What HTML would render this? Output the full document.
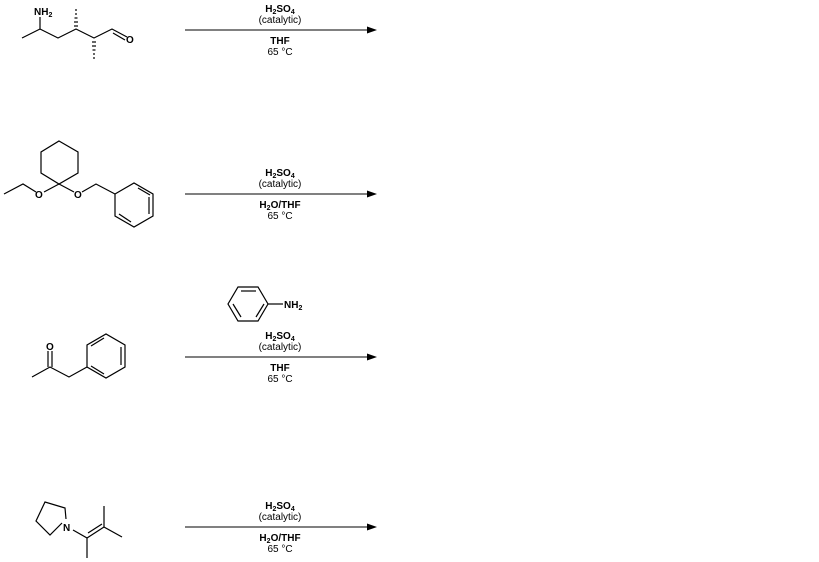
<!DOCTYPE html><html><head><style>body{margin:0;background:#fff}svg{display:block}text{font-family:"Liberation Sans",Arial,sans-serif;fill:#000}</style></head><body>
<svg width="819" height="562" viewBox="0 0 819 562" xmlns="http://www.w3.org/2000/svg">
<g stroke="#000" stroke-width="1.2" fill="none">
<polyline points="22,38 40,29 58,38 76,29 94,38 112,29 127,37"/>
<line x1="113" y1="33" x2="125" y2="40"/>
<line x1="40" y1="29" x2="40" y2="17"/>
</g>
<g stroke="#000" stroke-width="1.2">
<line x1="74" y1="26" x2="78" y2="26"/><line x1="74" y1="22" x2="78" y2="22"/><line x1="74.5" y1="18" x2="77.5" y2="18"/><line x1="75" y1="14" x2="77" y2="14"/><line x1="75" y1="10" x2="77" y2="10"/>
<line x1="92" y1="42" x2="96" y2="42"/><line x1="92" y1="46" x2="96" y2="46"/><line x1="92.5" y1="50" x2="95.5" y2="50"/><line x1="93" y1="54" x2="95" y2="54"/><line x1="93" y1="58" x2="95" y2="58"/>
</g>
<text x="34" y="15" font-size="10" font-weight="bold">NH<tspan font-size="7" dy="2">2</tspan></text>
<text x="126" y="43" font-size="10" font-weight="bold">O</text>
<g stroke="#000" stroke-width="1.2" fill="none">
<polygon points="59,141 78,152 78,173 59,184 41,173 41,152"/>
<polyline points="59,184 44,192"/><polyline points="36,192 23,184 4,194"/>
<polyline points="59,184 74,192"/><polyline points="82,192 96,184 115,194"/>
<polygon points="115,194 134,183 153,194 153,216 134,227 115,216"/>
<line x1="138" y1="188" x2="150" y2="195"/><line x1="149" y1="197" x2="149" y2="214"/><line x1="119" y1="214" x2="131" y2="222"/>
</g>
<text x="35" y="198" font-size="10" font-weight="bold">O</text><text x="74" y="198" font-size="10" font-weight="bold">O</text>
<g stroke="#000" stroke-width="1.2" fill="none">
<polyline points="32,377 50,367 69,377 87,367"/>
<line x1="48" y1="367" x2="48" y2="351"/><line x1="52" y1="367" x2="52" y2="351"/>
<polygon points="87,367 87,345 106,334 125,345 125,367 106,378"/>
<line x1="91" y1="346" x2="104" y2="338"/><line x1="121" y1="347" x2="121" y2="365"/><line x1="91" y1="366" x2="104" y2="374"/>
</g>
<text x="46" y="350" font-size="10" font-weight="bold">O</text>
<g stroke="#000" stroke-width="1.2" fill="none">
<polyline points="62,523 50,535 36,521 45,502 65,508 66,519"/>
<polyline points="73,530 87,538 87,558"/>
<line x1="87" y1="538" x2="104" y2="527"/><line x1="88" y1="533" x2="102" y2="524"/>
<polyline points="104,506 104,527 122,537"/>
</g>
<text x="63" y="531" font-size="10" font-weight="bold">N</text>
<g stroke="#000" stroke-width="1.2" fill="none">
<polygon points="228,293 238,287 258,287 268,304 258,321 238,321 228,304" style="display:none"/>
<polygon points="238,287 258,287 268,304 258,321 238,321 228,304"/>
<line x1="241" y1="291" x2="256" y2="291"/><line x1="233" y1="304" x2="241" y2="317"/><line x1="255" y1="317" x2="241" y2="317" style="display:none"/>
<line x1="264" y1="304" x2="256" y2="317"/>
<line x1="268" y1="304" x2="283" y2="304"/>
</g>
<text x="284" y="308" font-size="10" font-weight="bold">NH<tspan font-size="7" dy="2">2</tspan></text>
<g stroke="#000" stroke-width="1">
<line x1="185" y1="30" x2="370" y2="30"/><line x1="185" y1="194" x2="370" y2="194"/><line x1="185" y1="357" x2="370" y2="357"/><line x1="185" y1="527" x2="370" y2="527"/>
</g>
<g fill="#000"><polygon points="377,30 367,26.5 367,33.5"/><polygon points="377,194 367,190.5 367,197.5"/><polygon points="377,357 367,353.5 367,360.5"/><polygon points="377,527 367,523.5 367,530.5"/></g>
<g font-size="10" text-anchor="middle">
<text x="280" y="12" font-weight="bold">H<tspan font-size="7" dy="2">2</tspan><tspan dy="-2">SO</tspan><tspan font-size="7" dy="2">4</tspan></text><text x="280" y="23">(catalytic)</text><text x="280" y="44" font-weight="bold">THF</text><text x="280" y="55">65 °C</text>
<text x="280" y="176" font-weight="bold">H<tspan font-size="7" dy="2">2</tspan><tspan dy="-2">SO</tspan><tspan font-size="7" dy="2">4</tspan></text><text x="280" y="187">(catalytic)</text><text x="280" y="208" font-weight="bold">H<tspan font-size="7" dy="2">2</tspan><tspan dy="-2">O/THF</tspan></text><text x="280" y="219">65 °C</text>
<text x="280" y="339" font-weight="bold">H<tspan font-size="7" dy="2">2</tspan><tspan dy="-2">SO</tspan><tspan font-size="7" dy="2">4</tspan></text><text x="280" y="350">(catalytic)</text><text x="280" y="371" font-weight="bold">THF</text><text x="280" y="382">65 °C</text>
<text x="280" y="509" font-weight="bold">H<tspan font-size="7" dy="2">2</tspan><tspan dy="-2">SO</tspan><tspan font-size="7" dy="2">4</tspan></text><text x="280" y="520">(catalytic)</text><text x="280" y="541" font-weight="bold">H<tspan font-size="7" dy="2">2</tspan><tspan dy="-2">O/THF</tspan></text><text x="280" y="552">65 °C</text>
</g>
</svg></body></html>
